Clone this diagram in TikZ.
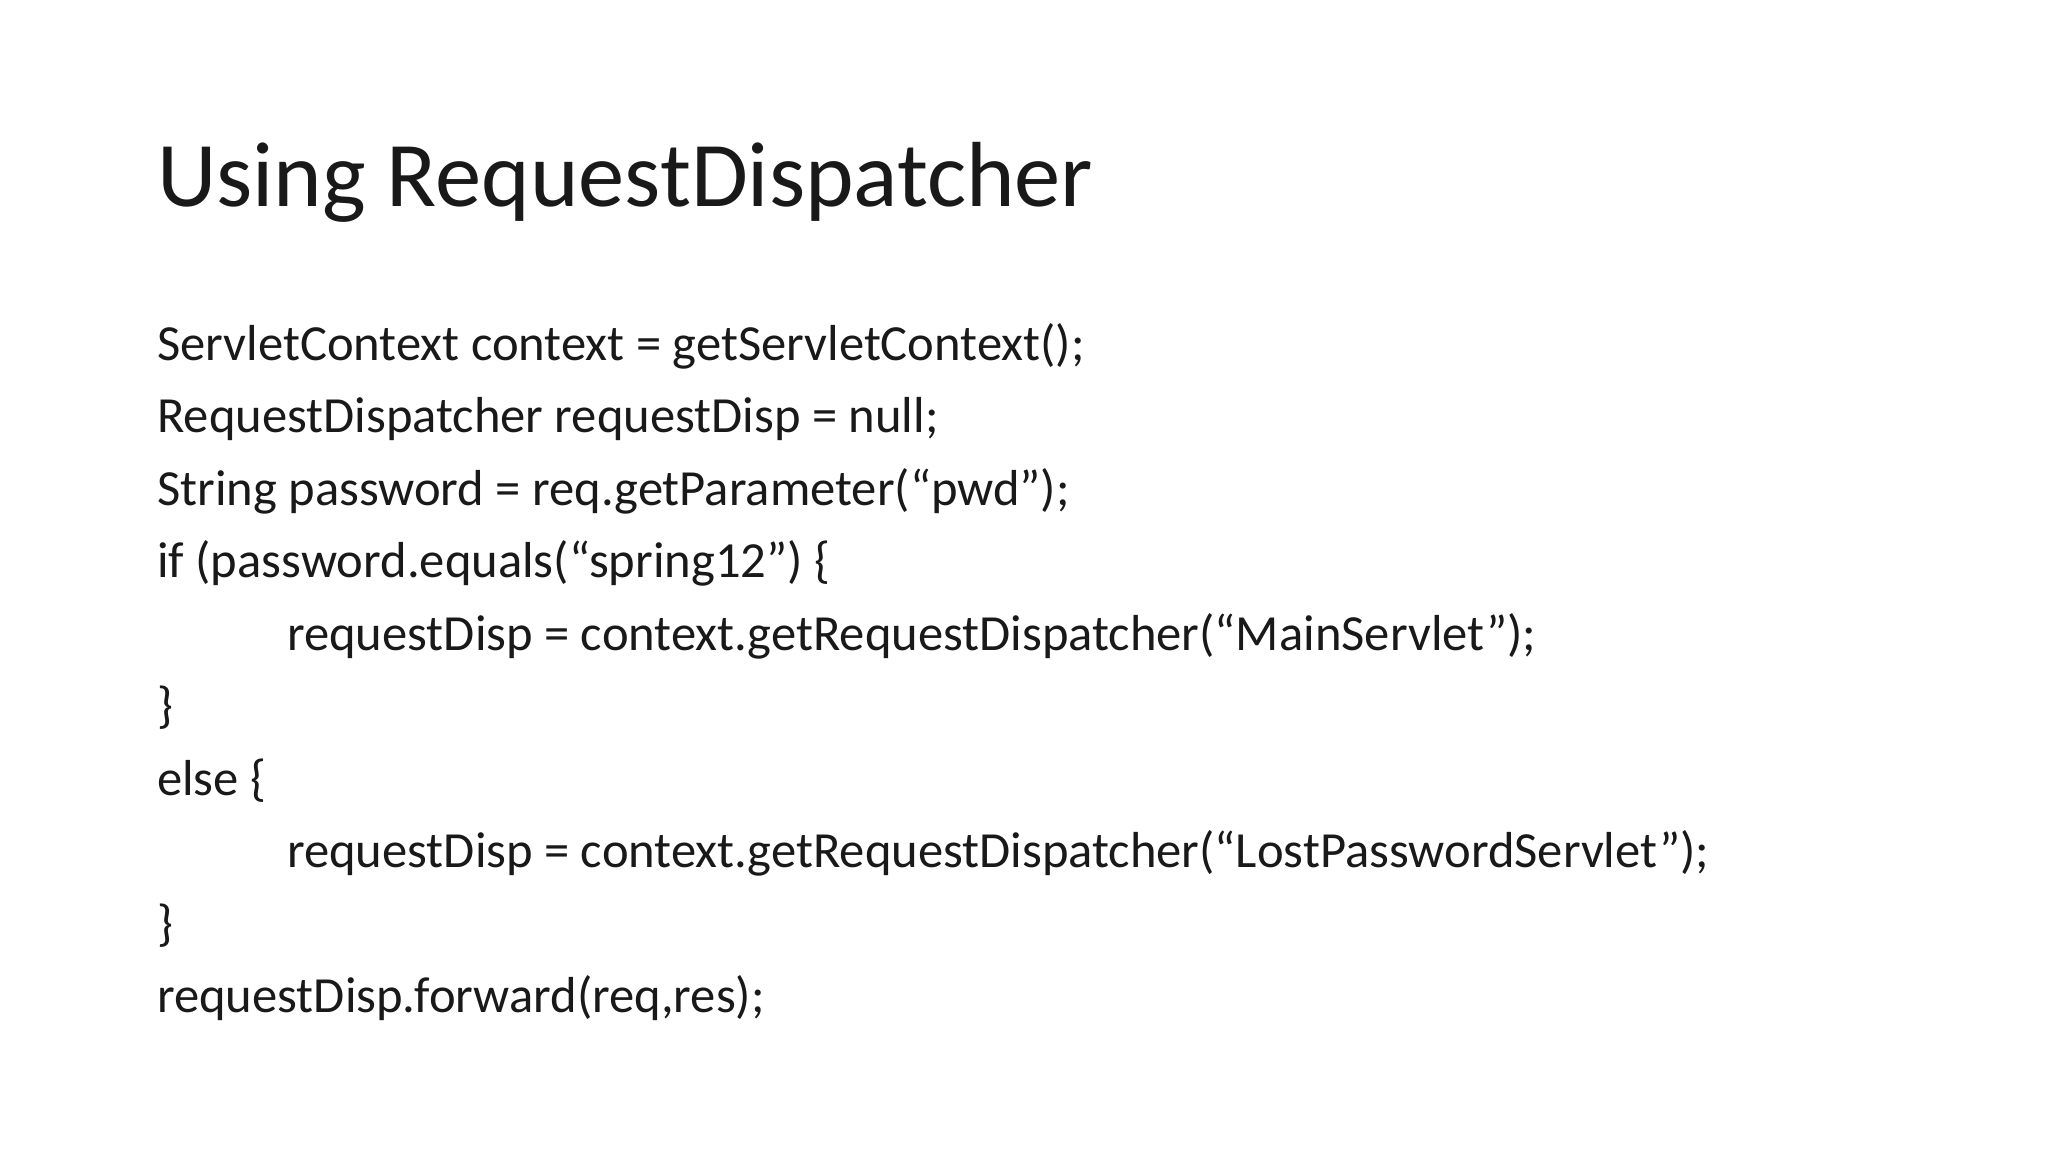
\documentclass[tikz,border=0pt]{standalone}
\usepackage{fontspec}
\setmainfont{Carlito}
\begin{document}
\begin{tikzpicture}[x=1pt,y=-1pt,
  line/.style={anchor=base west,inner sep=0pt,font=\fontsize{50.6}{60}\selectfont,text=black!90}]
\useasboundingbox[fill=white] (0,0) rectangle (2048,1152);
\node[anchor=base west,inner sep=0pt,font=\fontsize{92.5}{110}\selectfont,text=black!90] (title) at (157,206) {Using RequestDispatcher};
\node[line] (l1) at (157,360) {ServletContext context = getServletContext();};
\node[line] (l2) at (157,432.5) {RequestDispatcher requestDisp = null;};
\node[line] (l3) at (157,505) {String password = req.getParameter(“pwd”);};
\node[line] (l4) at (157,577.5) {if (password.equals(“spring12”) \{};
\node[line] (l5) at (287,650) {requestDisp = context.getRequestDispatcher(“MainServlet”);};
\node[line] (l6) at (157,722.5) {\}};
\node[line] (l7) at (157,795) {else \{};
\node[line] (l8) at (287,867.5) {requestDisp = context.getRequestDispatcher(“LostPasswordServlet”);};
\node[line] (l9) at (157,940) {\}};
\node[line] (l10) at (157,1012.5) {requestDisp.forward(req,res);};
\end{tikzpicture}
\end{document}
